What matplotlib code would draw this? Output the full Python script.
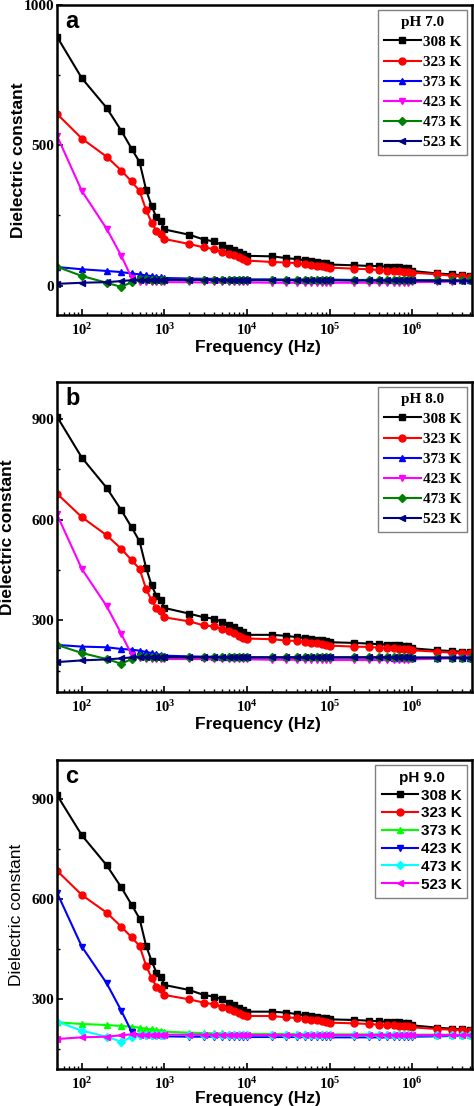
import math
import matplotlib
matplotlib.use("Agg")
import matplotlib.pyplot as plt
from matplotlib.ticker import FixedLocator, FuncFormatter, LogLocator, NullFormatter

plt.rcParams['mathtext.fontset'] = 'custom'
plt.rcParams['mathtext.rm'] = 'Liberation Serif'
plt.rcParams['mathtext.bf'] = 'Liberation Serif:bold'

# ---------------- data ----------------
freq = [50, 100, 200, 300, 400, 500, 600, 700, 800, 900,
        1e3, 2e3, 3e3, 4e3, 5e3, 6e3, 7e3, 8e3, 9e3,
        1e4, 2e4, 3e4, 4e4, 5e4, 6e4, 7e4, 8e4, 9e4,
        1e5, 2e5, 3e5, 4e5, 5e5, 6e5, 7e5, 8e5, 9e5,
        1e6, 2e6, 3e6, 4e6, 5e6]

temps = ['308 K', '323 K', '373 K', '423 K', '473 K', '523 K']

# pH 7.0
a_308 = [887, 739, 633, 552, 488, 440, 341, 283, 243, 229,
         200, 181, 164, 157, 145, 135, 128, 118, 111,
         106, 104, 98, 94, 90, 87, 84, 82, 80,
         75, 72, 70, 69, 67, 66, 65, 64, 61,
         52, 43, 40, 37, 35]
a_323 = [612, 524, 459, 410, 371, 337, 269, 224, 195, 184,
         166, 148, 136, 130, 120, 114, 108, 100, 94,
         89, 84, 82, 80, 76, 73, 71, 69, 66,
         64, 60, 58, 55, 53, 52, 51, 49, 48,
         46, 40, 35, 33, 30]
a_373 = [66, 58, 52, 48, 43, 40, 36, 34, 31, 29,
         27, 25, 24, 24, 23, 23, 22, 22, 22,
         22, 22, 21, 21, 21, 21, 21, 21, 21,
         21, 20, 20, 20, 20, 20, 20, 20, 20,
         19, 19, 18, 18, 18]
a_423 = [534, 337, 202, 106, 28, 14, 13, 13, 12, 12,
         12, 12, 11, 11, 11, 11, 11, 11, 11,
         11, 10, 10, 10, 10, 10, 10, 10, 10,
         10, 10, 10, 10, 10, 10, 10, 10, 10,
         12, 13, 14, 15, 15]
a_473 = [67, 34, 10, -5, 12, 22, 22, 21, 21, 21,
         21, 21, 21, 20, 20, 20, 20, 20, 20,
         20, 20, 20, 20, 20, 20, 20, 20, 20,
         20, 19, 19, 19, 19, 19, 19, 19, 19,
         18, 18, 18, 18, 18]
a_523 = [6, 10, 12, 16, 19, 20, 20, 20, 20, 20,
         20, 20, 20, 20, 20, 20, 20, 20, 20,
         19, 19, 19, 19, 19, 19, 19, 19, 19,
         19, 18, 18, 18, 18, 18, 18, 18, 18,
         18, 17, 17, 17, 17]

# pH 8.0
b_308 = [906, 784, 694, 628, 577, 535, 456, 404, 373, 362,
         337, 320, 309, 305, 295, 287, 280, 272, 265,
         257, 257, 254, 250, 248, 245, 243, 241, 239,
         235, 233, 231, 229, 228, 227, 226, 225, 224,
         217, 211, 209, 207, 206]
b_323 = [677, 607, 553, 513, 479, 453, 393, 360, 336, 329,
         309, 297, 285, 282, 274, 267, 262, 255, 249,
         246, 244, 240, 239, 236, 234, 232, 230, 227,
         225, 222, 221, 219, 218, 217, 216, 215, 214,
         211, 207, 204, 203, 202]
b_373 = [227, 222, 220, 215, 213, 210, 206, 203, 200, 198,
         195, 193, 192, 192, 191, 191, 191, 191, 190,
         190, 190, 190, 190, 190, 190, 190, 190, 190,
         190, 190, 190, 190, 190, 189, 189, 189, 189,
         189, 189, 189, 189, 189]
b_423 = [615, 453, 342, 260, 198, 187, 186, 186, 185, 185,
         185, 185, 185, 184, 184, 184, 184, 184, 184,
         184, 183, 183, 183, 183, 183, 183, 183, 183,
         182, 182, 182, 182, 182, 182, 182, 182, 182,
         184, 186, 187, 187, 188]
b_473 = [227, 203, 185, 171, 185, 193, 192, 191, 191, 191,
         190, 190, 190, 190, 190, 190, 190, 190, 190,
         190, 190, 190, 190, 190, 190, 190, 190, 190,
         190, 190, 190, 190, 190, 190, 190, 190, 190,
         189, 189, 189, 189, 189]
b_523 = [176, 181, 184, 187, 190, 191, 191, 191, 191, 191,
         191, 191, 191, 191, 191, 191, 191, 191, 191,
         190, 190, 190, 190, 190, 190, 190, 190, 190,
         190, 190, 190, 190, 190, 190, 190, 190, 190,
         189, 189, 189, 189, 189]

# pH 9.0
c_308 = [913, 792, 702, 636, 584, 542, 460, 415, 380, 368,
         343, 328, 313, 308, 300, 290, 283, 275, 268,
         263, 263, 260, 256, 252, 249, 247, 245, 243,
         240, 238, 236, 234, 233, 232, 231, 230, 229,
         222, 215, 212, 210, 208]
c_323 = [686, 613, 560, 518, 486, 460, 401, 364, 338, 331,
         313, 300, 290, 285, 278, 271, 266, 258, 253,
         250, 250, 246, 244, 242, 239, 237, 235, 233,
         230, 228, 226, 224, 223, 222, 221, 220, 219,
         216, 211, 209, 208, 206]
c_373 = [231, 226, 223, 220, 218, 215, 212, 210, 208, 206,
         203, 200, 199, 198, 198, 197, 197, 197, 197,
         196, 196, 196, 196, 196, 196, 196, 196, 196,
         195, 195, 195, 195, 195, 195, 195, 195, 195,
         194, 194, 194, 194, 194]
c_423 = [620, 458, 348, 266, 203, 191, 190, 190, 189, 189,
         189, 188, 188, 188, 188, 188, 188, 188, 188,
         187, 187, 187, 187, 187, 187, 187, 187, 187,
         186, 186, 186, 186, 186, 186, 186, 186, 186,
         188, 189, 190, 190, 190]
c_473 = [233, 206, 188, 173, 186, 193, 193, 193, 193, 193,
         193, 193, 193, 193, 193, 193, 193, 193, 193,
         192, 192, 192, 192, 192, 192, 192, 192, 192,
         192, 192, 192, 192, 192, 192, 192, 192, 192,
         192, 192, 192, 192, 192]
c_523 = [181, 186, 188, 192, 195, 194, 194, 194, 194, 194,
         194, 194, 194, 194, 194, 194, 194, 194, 194,
         193, 193, 193, 193, 193, 193, 193, 193, 193,
         193, 193, 193, 193, 193, 193, 193, 193, 193,
         193, 193, 193, 193, 193]

panels = [
    dict(letter='a', title='pH 7.0', series=[a_308, a_323, a_373, a_423, a_473, a_523],
         colors=['#000000', '#ff0000', '#0000ff', '#ff00ff', '#008000', '#000080'],
         ylim=(-105, 1000), yticks=[0, 500, 1000], yminor=[250, 750],
         rect=[57/474, 1-315/1106, 415/474, 310/1106],
         ylab_x=-0.075, xlab_y=-0.082, serif=True, ylab_bold=True, lspace=0.42),
    dict(letter='b', title='pH 8.0', series=[b_308, b_323, b_373, b_423, b_473, b_523],
         colors=['#000000', '#ff0000', '#0000ff', '#ff00ff', '#008000', '#000080'],
         ylim=(87, 1009), yticks=[300, 600, 900], yminor=[150, 450, 750],
         rect=[57/474, 1-692/1106, 415/474, 310/1106],
         ylab_x=-0.1, xlab_y=-0.08, serif=True, ylab_bold=True, lspace=0.42),
    dict(letter='c', title='pH 9.0', series=[c_308, c_323, c_373, c_423, c_473, c_523],
         colors=['#000000', '#ff0000', '#00ff00', '#0000ff', '#00ffff', '#ff00ff'],
         ylim=(91, 1018), yticks=[300, 600, 900], yminor=[150, 450, 750],
         rect=[57/474, 1-1069/1106, 415/474, 309/1106],
         ylab_x=-0.08, xlab_y=-0.071, serif=False, ylab_bold=False, lspace=0.25),
]

markers = ['s', 'o', '^', 'v', 'D', '<']
msizes = [4.5, 5, 5, 5, 4, 5]

fig = plt.figure(figsize=(4.74, 11.06), dpi=100)

serif = 'Liberation Serif'
sans = 'Liberation Sans'


def fmt(v, pos):
    return r'$\mathbf{10^{%d}}$' % round(math.log10(v))


for p in panels:
    ax = fig.add_axes(p['rect'])
    for vals, col, mk, ms, lab in zip(p['series'], p['colors'], markers, msizes, temps):
        ax.plot(freq, vals, color=col, marker=mk, markersize=ms, linewidth=1.5, label=lab)
    ax.set_xscale('log')
    ax.set_xlim(50, 5.3e6)
    ax.set_ylim(*p['ylim'])
    ax.yaxis.set_major_locator(FixedLocator(p['yticks']))
    ax.yaxis.set_minor_locator(FixedLocator(p['yminor']))
    ax.xaxis.set_major_locator(LogLocator(base=10, numticks=20))
    ax.xaxis.set_minor_locator(LogLocator(base=10, subs=range(2, 10), numticks=20))
    ax.xaxis.set_minor_formatter(NullFormatter())
    ax.xaxis.set_major_formatter(FuncFormatter(fmt))
    for lab in ax.get_yticklabels():
        lab.set_fontfamily(serif)
        lab.set_fontweight('bold')
        lab.set_fontsize(11)
    ax.tick_params(axis='x', which='major', labelsize=10.5, direction='in', length=4, width=1.2, pad=5)
    ax.tick_params(axis='y', which='major', labelsize=11, direction='in', length=4, width=1.2, pad=2)
    ax.tick_params(which='minor', direction='in', length=2.5, width=1.0)
    ax.tick_params(top=False, right=False)
    for s in ax.spines.values():
        s.set_linewidth(1.8)

    ax.set_xlabel('Frequency (Hz)', fontfamily=sans, fontweight='bold', fontsize=12.5)
    ax.xaxis.set_label_coords(0.485, p['xlab_y'])
    ax.set_ylabel('Dielectric constant', fontfamily=sans,
                  fontweight='bold' if p['ylab_bold'] else 'normal', fontsize=12.5)
    ax.yaxis.set_label_coords(p['ylab_x'], 0.5)

    ax.text(0.02, 0.985, p['letter'], transform=ax.transAxes, fontfamily=sans,
            fontweight='bold', fontsize=17, va='top', ha='left')

    lfont = serif if p['serif'] else sans
    leg = ax.legend(loc='upper right', title=p['title'], numpoints=1,
                    prop={'family': lfont, 'weight': 'bold', 'size': 11},
                    title_fontproperties={'family': lfont, 'weight': 'bold', 'size': 11},
                    frameon=True, fancybox=False, edgecolor='#808080', framealpha=1,
                    borderaxespad=0.3, handlelength=2.4, handletextpad=0.15,
                    labelspacing=p['lspace'], borderpad=0.4)
    leg.get_frame().set_linewidth(1.0)

fig.savefig('out.png', dpi=100)
